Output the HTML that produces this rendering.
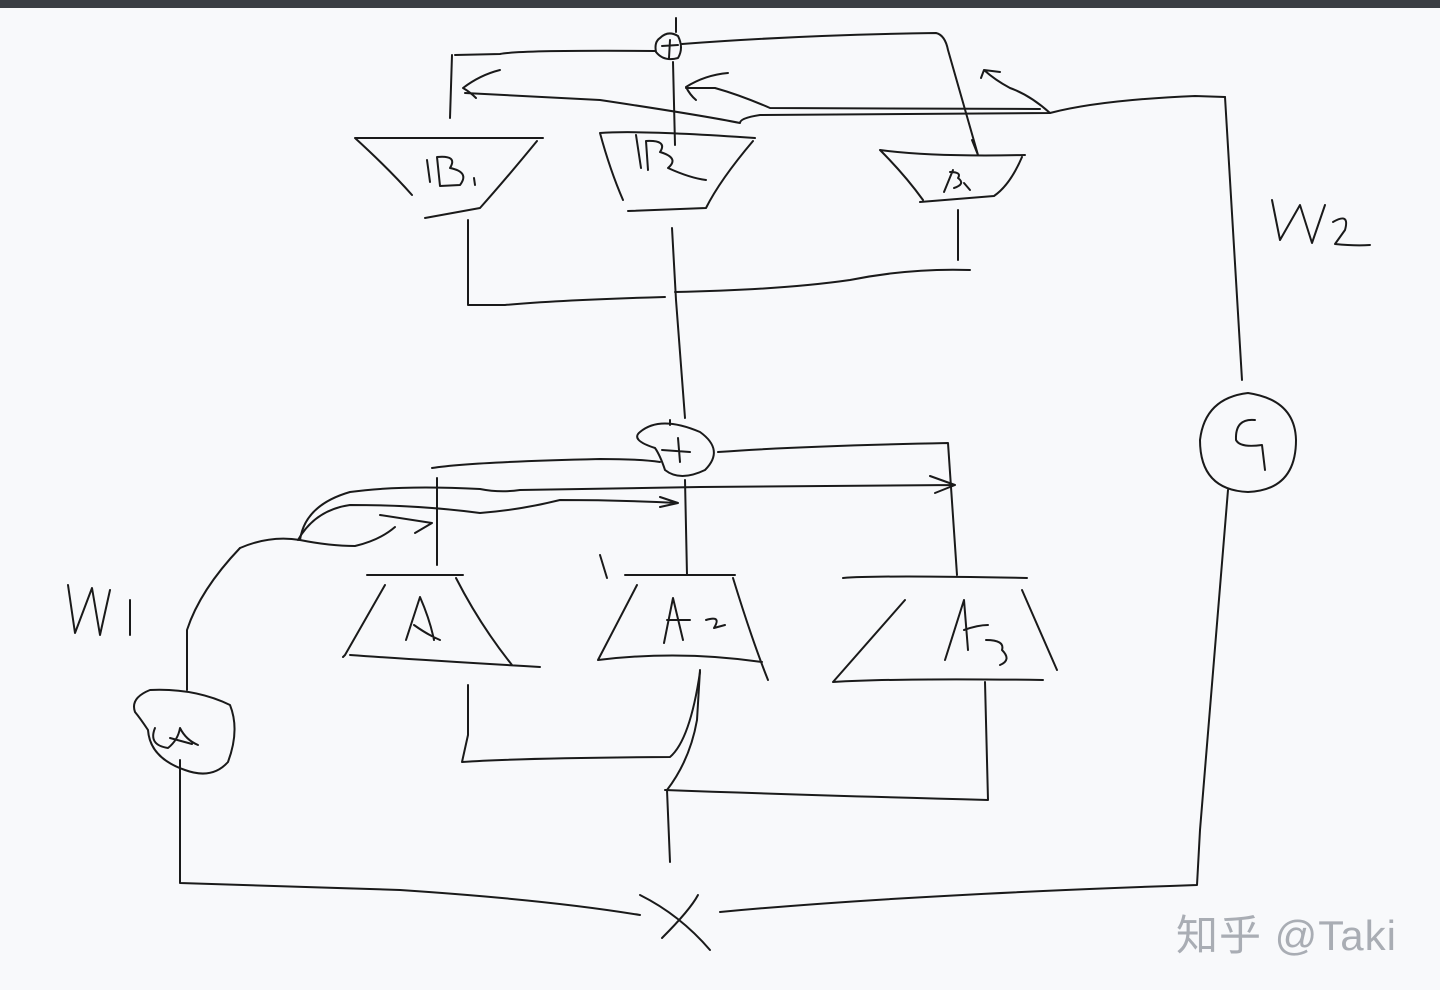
<!DOCTYPE html>
<html><head><meta charset="utf-8"><style>
html,body{margin:0;padding:0;width:1440px;height:990px;overflow:hidden;background:#f8f9fb}
svg{position:absolute;left:0;top:0}
.wm{position:absolute;left:1176px;top:902px;font:42px "Liberation Sans","Noto Sans CJK SC",sans-serif;color:#a9adb4;letter-spacing:1px}
</style></head><body>
<svg width="1440" height="990" viewBox="0 0 1440 990" fill="none" stroke="#1a1a1a" stroke-width="2" stroke-linecap="round" stroke-linejoin="round">
<rect x="0" y="0" width="1440" height="8" fill="#3b3e44" stroke="none"/>
<path d="M676 18 L676 32"/>
<path d="M660 38 Q668 30 678 36 Q684 48 678 58 Q664 62 656 52 Q654 42 660 38Z"/>
<path d="M662 46 L678 45 M670 40 L669 58"/>
<path d="M455 55 L500 54 Q520 50 655 51"/>
<path d="M452 55 L450 118"/>
<path d="M682 44 Q800 35 936 33 Q945 35 948 50 L978 155 M972 140 L978 155"/>
<path d="M673 62 L675 145"/>
<path d="M1225 97 L1195 96 Q1100 100 1050 113 L760 115 Q740 118 740 123 Q700 115 600 100 L465 93"/>
<path d="M500 70 Q480 75 463 88 Q470 92 476 98"/>
<path d="M728 73 Q705 75 686 87 Q690 95 696 100"/>
<path d="M686 88 L715 88 Q740 95 770 108 L1040 109"/>
<path d="M1050 113 Q1030 95 1010 88 Q995 80 984 70 M981 78 L984 70 L1000 72"/>
<path d="M355 138 L543 138 M355 138 Q390 170 412 195 M537 141 Q505 180 480 208 L425 218"/>
<path d="M600 133 Q640 130 755 138 M600 133 Q610 170 623 200 M753 141 Q720 180 706 208 L628 211"/>
<path d="M880 150 Q930 157 1025 155 M880 150 Q905 175 923 200 M1022 157 Q1010 185 994 196 L920 202"/>
<path d="M427 160 L430 182 M437 157 Q458 155 450 168 Q470 172 460 185 L440 186 M437 157 L440 186 M474 178 L475 185"/>
<path d="M636 135 L641 168 M646 141 Q668 140 660 152 Q680 158 668 168 Q690 178 706 180 M646 141 L648 170"/>
<path d="M953 170 L944 192 M950 172 Q962 172 958 178 Q966 184 954 188 M964 183 L970 190"/>
<path d="M468 220 L468 305 L505 305 Q560 300 665 297"/>
<path d="M672 228 L676 300 L685 418"/>
<path d="M675 292 Q780 290 850 280 Q910 268 970 270"/>
<path d="M958 210 L958 260"/>
<path d="M670 420 L670 425"/>
<path d="M640 432 Q660 415 700 432 Q725 450 705 470 Q680 482 665 470 Q660 455 655 448 Q630 440 640 432Z"/>
<path d="M662 450 L690 452 M678 438 L680 462"/>
<path d="M432 468 Q470 462 600 459 Q640 459 660 462"/>
<path d="M718 452 Q800 446 948 443 L957 575"/>
<path d="M437 478 L437 565"/>
<path d="M685 480 L687 575"/>
<path d="M300 540 Q305 505 350 492 Q400 485 480 489 Q500 493 520 490 L700 487 Q800 486 955 485 M930 476 L955 485 L935 493"/>
<path d="M298 540 Q315 510 350 505 Q420 505 480 513 Q520 510 560 500 Q620 500 678 503 M660 497 L678 503 L660 507"/>
<path d="M240 548 Q270 535 300 540 Q330 546 355 546 Q380 540 395 527 M380 515 L432 523 L415 533"/>
<path d="M187 690 L187 630 Q200 590 240 548"/>
<path d="M367 575 L463 575 M385 585 L345 655 L343 657 M456 578 Q480 625 512 665 M350 655 Q420 660 540 667"/>
<path d="M625 575 L735 575 M637 585 L598 660 M733 578 Q752 640 768 680 M598 660 Q680 650 762 662"/>
<path d="M843 578 Q880 575 1027 578 M905 600 L833 682 M1022 590 L1057 670 M833 682 Q900 678 1043 680"/>
<path d="M406 640 L420 597 Q430 620 434 640 M414 625 Q428 635 440 640"/>
<path d="M600 555 L607 578"/>
<path d="M664 643 L673 598 L683 640 M667 620 L690 620 M706 620 Q722 615 714 628 L725 625"/>
<path d="M945 660 L964 600 L968 650 M964 630 Q978 625 988 625 M986 640 Q1005 640 1002 650 Q1012 660 1000 665"/>
<path d="M468 685 L468 735 L462 762 Q520 758 670 757 Q690 740 700 672"/>
<path d="M700 670 L697 720 Q690 760 667 790 L670 862"/>
<path d="M665 790 Q800 795 988 800 L985 682"/>
<path d="M150 690 Q195 688 230 705 Q240 730 228 762 Q212 780 185 770 Q150 758 148 730 Q140 718 135 712 Q130 698 150 690Z"/>
<path d="M155 728 Q148 745 168 748 Q178 740 180 728 Q186 740 198 745 M170 738 L192 744"/>
<path d="M180 760 L180 883 L400 890 Q550 900 640 915"/>
<path d="M640 895 Q680 915 710 950 M698 895 Q690 910 662 938"/>
<path d="M720 912 Q900 895 1197 885 L1200 830 L1228 490"/>
<path d="M1248 393 Q1295 400 1296 440 Q1296 490 1248 492 Q1200 490 1200 440 Q1205 398 1248 393Z"/>
<path d="M1255 420 Q1235 418 1236 440 Q1240 448 1262 445 L1265 470"/>
<path d="M1242 380 L1225 97"/>
<path d="M68 585 L75 633 L92 588 L100 635 L110 590 M130 600 L130 635"/>
<path d="M1272 200 L1280 240 L1300 205 L1312 243 L1325 205 M1333 222 Q1350 212 1345 230 L1335 244 Q1355 246 1370 245"/>
</svg>
<div class="wm">知乎 @Taki</div>
</body></html>
